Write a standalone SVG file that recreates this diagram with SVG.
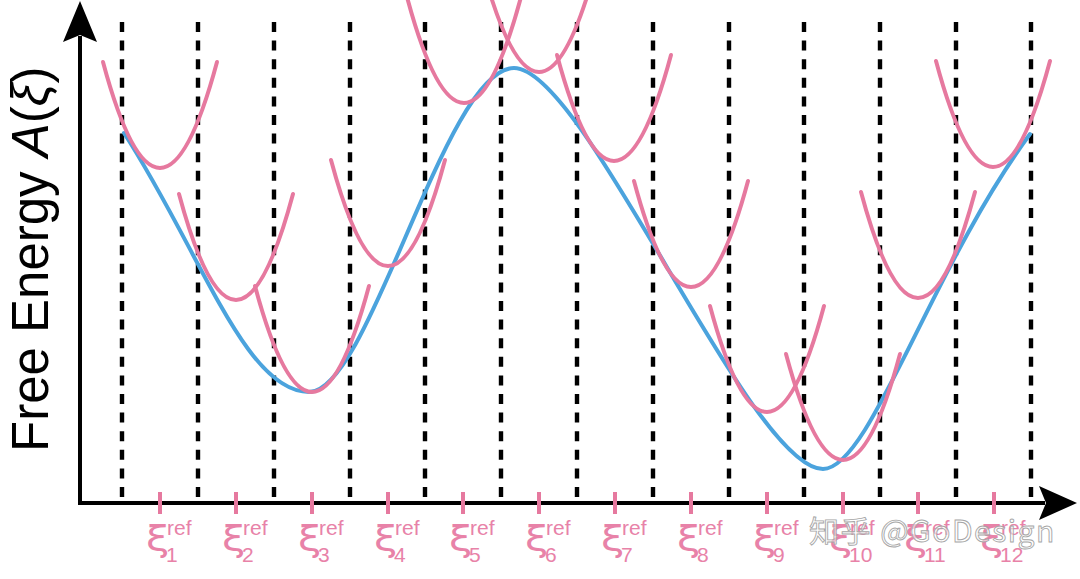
<svg xmlns="http://www.w3.org/2000/svg" width="1080" height="579" viewBox="0 0 1080 579">
  <defs>
    <style>
      .dash { stroke: #000; stroke-width: 4.4; stroke-dasharray: 10 8.6; fill: none; }
      .axis { stroke: #000; stroke-width: 4; fill: none; }
      .win { stroke: #E6799F; stroke-width: 4; fill: none; stroke-linecap: round; }
      .tick { stroke: #E6799F; stroke-width: 4; }
      .fe { stroke: #4BA3DD; stroke-width: 4; fill: none; stroke-linecap: round; }
      .xi { font-family: "Liberation Sans", Arial, sans-serif; fill: #E882A8; }
      .big { font-family: "DejaVu Sans", sans-serif; font-size: 35px; }
      .sm { font-size: 21px; }
      .ylab { font-family: "Liberation Sans", Arial, sans-serif; font-size: 51px; fill: #000; }
      .wm { font-family: "Noto Sans CJK SC", "Liberation Sans", sans-serif; font-size: 30px; letter-spacing: 1.5px; fill: #ffffff; fill-opacity: 0.55; stroke: #a6a6a6; stroke-width: 0.9; }
    </style>
  </defs>
  <rect width="1080" height="579" fill="#ffffff"/>

  <g id="dashed-lines">
    <line class="dash" x1="122" y1="22" x2="122" y2="497"/>
    <line class="dash" x1="198" y1="22" x2="198" y2="497"/>
    <line class="dash" x1="274" y1="22" x2="274" y2="497"/>
    <line class="dash" x1="350" y1="22" x2="350" y2="497"/>
    <line class="dash" x1="425" y1="22" x2="425" y2="497"/>
    <line class="dash" x1="501" y1="22" x2="501" y2="497"/>
    <line class="dash" x1="577" y1="22" x2="577" y2="497"/>
    <line class="dash" x1="653" y1="22" x2="653" y2="497"/>
    <line class="dash" x1="729" y1="22" x2="729" y2="497"/>
    <line class="dash" x1="804" y1="22" x2="804" y2="497"/>
    <line class="dash" x1="880" y1="22" x2="880" y2="497"/>
    <line class="dash" x1="956" y1="22" x2="956" y2="497"/>
    <line class="dash" x1="1031" y1="22" x2="1031" y2="497"/>
  </g>

  <g id="free-energy">
    <path class="fe" d="M124,133 C200,250 245,392 309,392 C370,392 445,68 514,68 C585,68 750,469 823,469 C870,469 930,270 1030,134"/>
  </g>

  <g id="windows">
    <path class="win" d="M103,62 Q160,274 217,62"/>
    <path class="win" d="M179,194 Q236,406 293,194"/>
    <path class="win" d="M255,286 Q312,498 369,286"/>
    <path class="win" d="M331,160 Q388,372 445,160"/>
    <path class="win" d="M407,-3 Q464,209 521,-3"/>
    <path class="win" d="M482,-34 Q539,178 596,-34"/>
    <path class="win" d="M557,55 Q614,267 671,55"/>
    <path class="win" d="M634,181 Q691,393 748,181"/>
    <path class="win" d="M710,306 Q767,518 824,306"/>
    <path class="win" d="M786,354 Q843,566 900,354"/>
    <path class="win" d="M861,192 Q918,404 975,192"/>
    <path class="win" d="M936,61 Q993,273 1050,61"/>
  </g>

  <g id="axes">
    <path class="axis" d="M80,36 L80,503 L1045,503"/>
    <polygon points="80,1 97,42 80,35 63,42" fill="#000"/>
    <polygon points="1077,503 1039,486 1046,503 1039,520" fill="#000"/>
  </g>

  <g id="ticks">
    <line class="tick" x1="160" y1="492" x2="160" y2="514"/>
    <line class="tick" x1="236" y1="492" x2="236" y2="514"/>
    <line class="tick" x1="312" y1="492" x2="312" y2="514"/>
    <line class="tick" x1="388" y1="492" x2="388" y2="514"/>
    <line class="tick" x1="463" y1="492" x2="463" y2="514"/>
    <line class="tick" x1="539" y1="492" x2="539" y2="514"/>
    <line class="tick" x1="615" y1="492" x2="615" y2="514"/>
    <line class="tick" x1="691" y1="492" x2="691" y2="514"/>
    <line class="tick" x1="767" y1="492" x2="767" y2="514"/>
    <line class="tick" x1="843" y1="492" x2="843" y2="514"/>
    <line class="tick" x1="918" y1="492" x2="918" y2="514"/>
    <line class="tick" x1="994" y1="492" x2="994" y2="514"/>
  </g>

  <g id="labels" class="xi">
    <g id="label-1"><text class="big" transform="translate(146,551) scale(1.2,1)">ξ</text><text class="sm" x="167" y="535">ref</text><text class="sm" x="166" y="562">1</text></g>
    <g id="label-2"><text class="big" transform="translate(222,551) scale(1.2,1)">ξ</text><text class="sm" x="243" y="535">ref</text><text class="sm" x="242" y="562">2</text></g>
    <g id="label-3"><text class="big" transform="translate(298,551) scale(1.2,1)">ξ</text><text class="sm" x="319" y="535">ref</text><text class="sm" x="318" y="562">3</text></g>
    <g id="label-4"><text class="big" transform="translate(374,551) scale(1.2,1)">ξ</text><text class="sm" x="395" y="535">ref</text><text class="sm" x="394" y="562">4</text></g>
    <g id="label-5"><text class="big" transform="translate(449,551) scale(1.2,1)">ξ</text><text class="sm" x="470" y="535">ref</text><text class="sm" x="469" y="562">5</text></g>
    <g id="label-6"><text class="big" transform="translate(525,551) scale(1.2,1)">ξ</text><text class="sm" x="546" y="535">ref</text><text class="sm" x="545" y="562">6</text></g>
    <g id="label-7"><text class="big" transform="translate(601,551) scale(1.2,1)">ξ</text><text class="sm" x="622" y="535">ref</text><text class="sm" x="621" y="562">7</text></g>
    <g id="label-8"><text class="big" transform="translate(677,551) scale(1.2,1)">ξ</text><text class="sm" x="698" y="535">ref</text><text class="sm" x="697" y="562">8</text></g>
    <g id="label-9"><text class="big" transform="translate(753,551) scale(1.2,1)">ξ</text><text class="sm" x="774" y="535">ref</text><text class="sm" x="773" y="562">9</text></g>
    <g id="label-10"><text class="big" transform="translate(829,551) scale(1.2,1)">ξ</text><text class="sm" x="850" y="535">ref</text><text class="sm" x="849" y="562">10</text></g>
    <g id="label-11"><text class="big" transform="translate(904,551) scale(1.2,1)">ξ</text><text class="sm" x="925" y="535">ref</text><text class="sm" x="924" y="562">11</text></g>
    <g id="label-12"><text class="big" transform="translate(980,551) scale(1.2,1)">ξ</text><text class="sm" x="1001" y="535">ref</text><text class="sm" x="1000" y="562">12</text></g>
  </g>

  <g id="y-label">
    <text class="ylab" transform="translate(48,452) rotate(-90)">Free Energy <tspan font-style="italic">A</tspan>(<tspan font-style="italic">ξ</tspan>)</text>
  </g>

  <g id="watermark">
    <text class="wm" x="809" y="542">知乎 @GoDesign</text>
  </g>
</svg>
